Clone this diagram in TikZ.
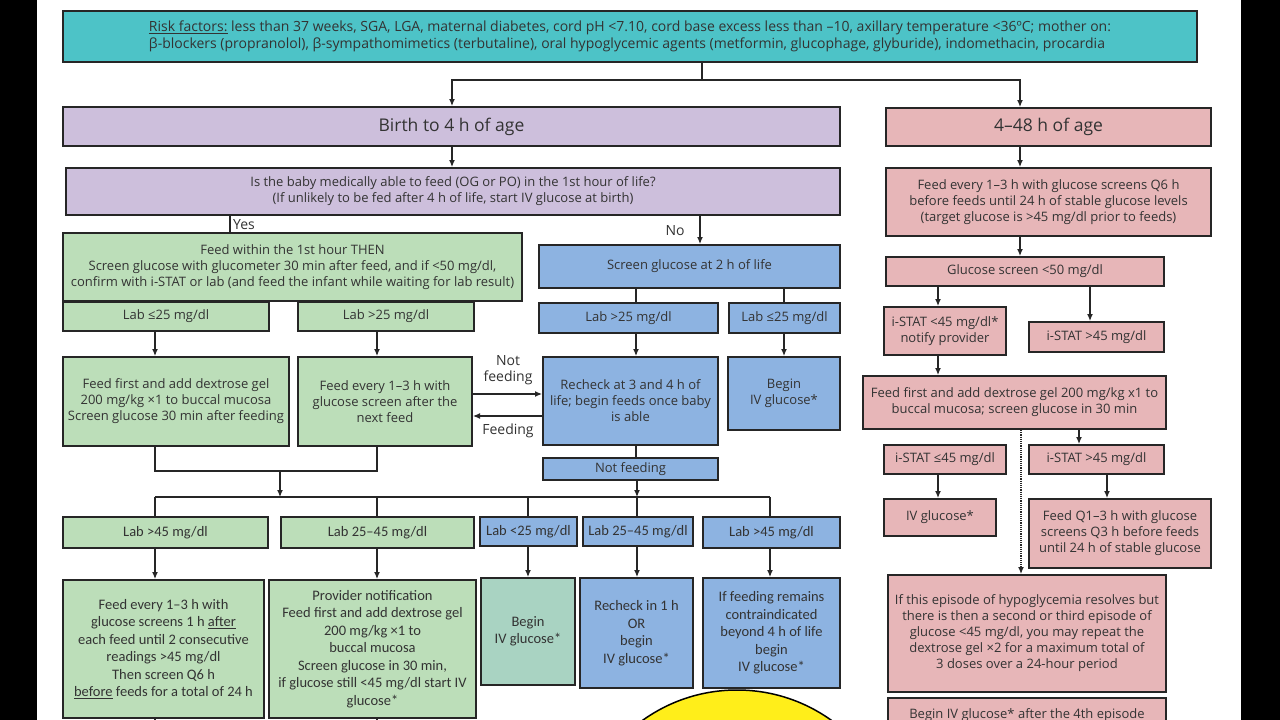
\documentclass[tikz,border=0pt]{standalone}
\usepackage{fontspec}
\setmainfont{Open Sans}
\newfontfamily\cond{Carlito}
\begin{document}
\begin{tikzpicture}[x=1pt,y=-1pt,
  box/.style={draw=black!85,line width=2pt,align=center,inner sep=1pt,font=\fontsize{13}{16}\selectfont,text=black!80},
  tl/.style={box,fill=teal1},
  pu/.style={box,fill=purp},
  pk/.style={box,fill=pink1},
  gr/.style={box,fill=grn},
  bl/.style={box,fill=blu},
  gb/.style={box,fill=grnblu},
  cd/.style={font=\cond\fontsize{14.5}{17.5}\selectfont},
  arr/.style={draw=black!85,line width=1.2pt,-{Latex[length=7pt,width=6pt]}},
  ln/.style={draw=black!85,line width=1.2pt},
  lbl/.style={font=\fontsize{14}{16}\selectfont,text=black!80,align=center,inner sep=0pt}]
\usetikzlibrary{arrows.meta}
\definecolor{teal1}{HTML}{4DC3C7}
\definecolor{purp}{HTML}{CDBFDC}
\definecolor{pink1}{HTML}{E7B6B8}
\definecolor{grn}{HTML}{BCDEB9}
\definecolor{blu}{HTML}{8DB3E1}
\definecolor{grnblu}{HTML}{A9D3C2}
\newcommand\bx[7]{\node[#6,minimum width={(#4-#2)*1pt},minimum height={(#5-#3)*1pt}] (#1) at ({(#2+#4)/2},{(#3+#5)/2}) {#7};}
\useasboundingbox (0,0) rectangle (1280,720);
\fill[white] (0,0) rectangle (1280,720);
\begin{scope}
\clip (0,0) rectangle (1280,720);
\draw[fill=yellow!95!orange!90,line width=1.5pt] (737,852) circle (162);
\end{scope}
% top
\bx{risk}{63}{11}{1197}{62}{tl,font=\fontsize{14}{17}\selectfont}{\begin{tabular}{@{}l@{}}\underline{Risk factors:} less than 37 weeks, SGA, LGA, maternal diabetes, cord pH <7.10, cord base excess less than –10, axillary temperature <36ºC; mother on:\\ β-blockers (propranolol), β-sympathomimetics (terbutaline), oral hypoglycemic agents (metformin, glucophage, glyburide), indomethacin, procardia\end{tabular}}
\bx{birth}{63}{107}{840}{146}{pu,font=\fontsize{17.5}{20}\selectfont}{Birth to 4 h of age}
\bx{later}{886}{108}{1211}{146}{pk,font=\fontsize{17.5}{20}\selectfont}{4–48 h of age}
\coordinate (split) at (702,80);
\draw[ln] (risk.south -| split) -- (split);
\draw[arr] (split) -| (birth.north -| 452,0);
\draw[arr] (split) -| (later.north -| 1020,0);
\bx{q}{66}{168}{840}{215}{pu}{Is the baby medically able to feed (OG or PO) in the 1st hour of life?\\(If unlikely to be fed after 4 h of life, start IV glucose at birth)}
\draw[arr] (birth.south -| 452,0) -- (q.north -| 452,0);
% yes branch
\bx{feed1}{63}{233}{522}{301}{gr}{Feed within the 1st hour THEN\\Screen glucose with glucometer 30 min after feed, and if <50 mg/dl,\\confirm with i-STAT or lab (and feed the infant while waiting for lab result)}
\draw[ln] (q.south -| 230,0) -- (feed1.north -| 230,0);
\node[lbl] (yes) at (244,225) {Yes};
\bx{lle}{63}{302}{269}{331}{gr}{Lab ≤25 mg/dl}
\bx{lgt}{298}{302}{474}{331}{gr}{Lab >25 mg/dl}
\bx{gel}{63}{357}{289}{446}{gr}{Feed first and add dextrose gel\\200 mg/kg ×1 to buccal mucosa\\Screen glucose 30 min after feeding}
\bx{fe}{298}{357}{472}{446}{gr}{Feed every 1–3 h with\\glucose screen after the\\next feed}
\draw[arr] (lle.south -| 155,0) -- (gel.north -| 155,0);
\draw[arr] (lgt.south -| 377,0) -- (fe.north -| 377,0);
% no branch
\node[lbl] (no) at (675,231) {No};
\bx{scr}{539}{245}{840}{288}{bl}{Screen glucose at 2 h of life}
\draw[arr] (q.south -| 700,0) -- (scr.north -| 700,0);
\bx{bgt}{539}{303}{718}{333}{bl}{Lab >25 mg/dl}
\bx{ble}{729}{303}{840}{333}{bl}{Lab ≤25 mg/dl}
\draw[ln] (scr.south -| 636,0) -- (bgt.north -| 636,0);
\draw[ln] (scr.south -| 784,0) -- (ble.north -| 784,0);
\bx{rech}{543}{357}{718}{445}{bl}{Recheck at 3 and 4 h of\\life; begin feeds once baby\\is able}
\bx{biv}{728}{357}{840}{430}{bl}{Begin\\IV glucose*}
\draw[arr] (bgt.south -| 636,0) -- (rech.north -| 636,0);
\draw[arr] (ble.south -| 784,0) -- (biv.north -| 784,0);
\draw[arr] (fe.east |- 0,394) -- (rech.west |- 0,394);
\draw[arr] (rech.west |- 0,416) -- (fe.east |- 0,416);
\node[lbl] (nf) at (508,370) {Not\\feeding};
\node[lbl] (fd) at (508,431) {Feeding};
\bx{notf}{543}{458}{718}{480}{bl}{Not feeding}
\draw[ln] (rech.south -| 636,0) -- (notf.north -| 636,0);
% merge
\coordinate (m1) at (155,471);
\coordinate (m2) at (377,471);
\coordinate (m3) at (280,471);
\coordinate (hl) at (155,497);
\coordinate (hr) at (770,497);
\draw[ln] (gel.south -| m1) -- (m1) -- (m2) -- (fe.south -| m2);
\draw[arr] (m3) -- (280,497);
\draw[arr] (notf.south -| 637,0) -- (637,497);
\draw[ln] (hl) -- (hr);
\bx{r1}{63}{517}{268}{548}{gr,cd}{Lab >45 mg/dl}
\bx{r2}{281}{517}{474}{548}{gr,cd}{Lab 25–45 mg/dl}
\bx{r3}{480}{517}{577}{546}{bl,cd}{Lab <25 mg/dl}
\bx{r4}{583}{517}{693}{546}{bl,cd}{Lab 25–45 mg/dl}
\bx{r5}{703}{517}{840}{548}{bl,cd}{Lab >45 mg/dl}
\foreach \n/\x in {r1/155,r2/377,r3/528,r4/637,r5/770}{\draw[ln] (\x,497) -- (\n.north -| \x,0);}
\bx{b1}{63}{580}{264}{718}{gr,cd}{Feed every 1–3 h with\\glucose screens 1 h \underline{after}\\each feed until 2 consecutive\\readings >45 mg/dl\\Then screen Q6 h\\\underline{before} feeds for a total of 24 h}
\bx{b2}{269}{580}{476}{718}{gr,cd}{Provider notification\\Feed first and add dextrose gel\\200 mg/kg ×1 to\\buccal mucosa\\Screen glucose in 30 min,\\if glucose still <45 mg/dl start IV\\glucose*}
\bx{b3}{481}{578}{575}{685}{gb,cd}{Begin\\IV glucose*}
\bx{b4}{580}{578}{693}{688}{bl,cd}{Recheck in 1 h\\OR\\begin\\IV glucose*}
\bx{b5}{703}{578}{840}{688}{bl,cd}{If feeding remains\\contraindicated\\beyond 4 h of life\\begin\\IV glucose*}
\draw[arr] (r1.south -| 155,0) -- (b1.north -| 155,0);
\draw[arr] (r2.south -| 377,0) -- (b2.north -| 377,0);
\draw[arr] (r3.south -| 528,0) -- (b3.north -| 528,0);
\draw[arr] (r4.south -| 637,0) -- (b4.north -| 637,0);
\draw[arr] (r5.south -| 770,0) -- (b5.north -| 770,0);
\coordinate (e1) at (155,722);
\coordinate (e2) at (377,722);
\draw[ln] (b1.south -| e1) -- (e1);
\draw[ln] (b2.south -| e2) -- (e2);
% right column
\bx{p1}{886}{168}{1211}{236}{pk}{Feed every 1–3 h with glucose screens Q6 h\\before feeds until 24 h of stable glucose levels\\(target glucose is >45 mg/dl prior to feeds)}
\draw[arr] (later.south -| 1020,0) -- (p1.north -| 1020,0);
\bx{p2}{886}{257}{1164}{286}{pk}{Glucose screen <50 mg/dl}
\draw[arr] (p1.south -| 1020,0) -- (p2.north -| 1020,0);
\bx{p3}{884}{307}{1006}{355}{pk}{i-STAT <45 mg/dl*\\notify provider}
\bx{p4}{1029}{322}{1164}{352}{pk}{i-STAT >45 mg/dl}
\draw[arr] (p2.south -| 938,0) -- (p3.north -| 938,0);
\draw[arr] (p2.south -| 1090,0) -- (p4.north -| 1090,0);
\bx{p5}{863}{376}{1166}{429}{pk}{Feed first and add dextrose gel 200 mg/kg x1 to\\buccal mucosa; screen glucose in 30 min}
\draw[arr] (p3.south -| 938,0) -- (p5.north -| 938,0);
\bx{p6}{884}{445}{1006}{474}{pk}{i-STAT ≤45 mg/dl}
\bx{p7}{1029}{445}{1164}{474}{pk}{i-STAT >45 mg/dl}
\draw[arr] (p5.south -| 1079,0) -- (p7.north -| 1079,0);
\bx{p8}{884}{499}{996}{536}{pk}{IV glucose*}
\bx{p9}{1029}{499}{1211}{568}{pk}{Feed Q1–3 h with glucose\\screens Q3 h before feeds\\until 24 h of stable glucose}
\draw[arr] (p6.south -| 938,0) -- (p8.north -| 938,0);
\draw[arr] (p7.south -| 1107,0) -- (p9.north -| 1107,0);
\bx{p10}{888}{575}{1166}{692}{pk}{If this episode of hypoglycemia resolves but\\there is then a second or third episode of\\glucose <45 mg/dl, you may repeat the\\dextrose gel ×2 for a maximum total of\\3 doses over a 24-hour period}
\draw[arr,densely dotted] (p5.south -| 1021,0) -- (p10.north -| 1021,0);
\bx{p11}{888}{698}{1166}{732}{pk}{Begin IV glucose* after the 4th episode}
% side bars
\fill[black] (0,0) rectangle (37,720);
\fill[black] (1241,0) rectangle (1280,720);
\end{tikzpicture}
\end{document}
